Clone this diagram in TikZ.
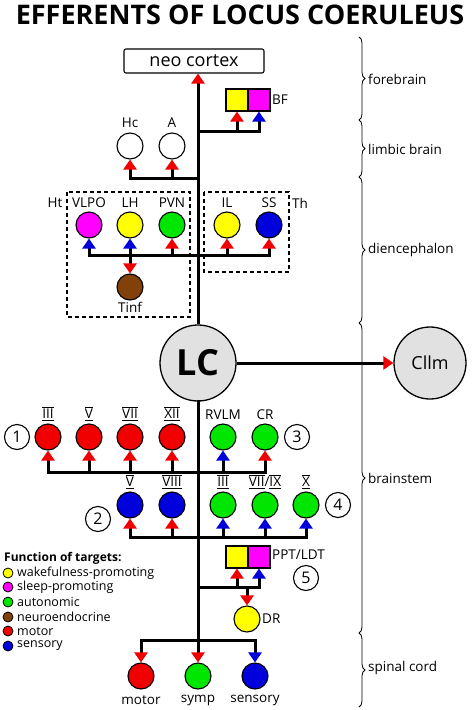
\documentclass[tikz,border=0pt]{standalone}
\usepackage{fontspec}
\setmainfont{Open Sans}
\usetikzlibrary{arrows.meta,decorations.pathreplacing}
\definecolor{cred}{RGB}{240,0,0}
\definecolor{cyel}{RGB}{255,255,0}
\definecolor{cmag}{RGB}{255,0,255}
\definecolor{cgrn}{RGB}{0,230,0}
\definecolor{cblu}{RGB}{0,0,220}
\definecolor{cbrn}{RGB}{130,65,10}
\definecolor{cgry}{RGB}{225,225,225}
\newcommand\rnum[1]{\begingroup\setbox0\hbox{#1}\leavevmode\lower2.1pt\vbox{\hrule height1pt width\wd0\kern1.2pt\copy0\kern1.2pt\hrule height1pt}\endgroup}
\begin{document}
\begin{tikzpicture}[x=1pt,y=-1pt,
  tgt/.style={circle,draw,line width=1.1pt,minimum size=26pt,inner sep=0pt,fill=#1},
  sq/.style={draw,line width=1.1pt,minimum size=22pt,inner sep=0pt,fill=#1},
  lab/.style={font=\fontsize{13.5}{15}\selectfont,inner sep=0pt},
  num/.style={circle,draw,line width=1.1pt,minimum size=25pt,inner sep=0pt,font=\fontsize{16}{18}\selectfont},
  wire/.style={line width=3pt},
  bus/.style={wire,line cap=rect},
  arw/.style={wire,-{Triangle[width=13pt,length=10pt,color=#1]}},
  dbox/.style={line width=1.2pt,dash pattern=on 4pt off 3pt},
  brc/.style={decorate,decoration={brace,amplitude=6pt},line width=0.8pt},
  side/.style={font=\fontsize{13.5}{15}\selectfont,anchor=west,inner sep=0pt},
  leg/.style={font=\fontsize{12.5}{14}\selectfont,anchor=west,inner sep=0pt},
  dot/.style={circle,draw,line width=0.8pt,minimum size=10pt,inner sep=0pt,fill=#1}
]
\fill[white] (0,0) rectangle (474,710);
\useasboundingbox (0,0) rectangle (474,710);

% title
\node[font=\fontsize{27}{30}\selectfont\bfseries,inner sep=0pt] (title) at (240,15) {EFFERENTS OF LOCUS COERULEUS};

% forebrain
\node[draw,rounded corners=2pt,line width=1.1pt,minimum width=140pt,minimum height=24pt,inner sep=0pt,font=\fontsize{18}{20}\selectfont] (neo) at (194,61) {neo cortex};
\node[sq=cyel] (bfy) at (237,100) {};
\node[sq=cmag] (bfm) at (259,100) {};
\node[lab,anchor=west] (bfl) at (272,100) {BF};

% limbic
\node[tgt=white] (hc) at (130,146) {};
\node[tgt=white] (am) at (172,146) {};
\node[lab] (hcl) at (130,123) {Hc};
\node[lab] (aml) at (172,123) {A};

% diencephalon
\draw[dbox] (67,192) rectangle (190,317);
\draw[dbox] (204,192) rectangle (289,272);
\node[lab] (htl) at (55,203) {Ht};
\node[lab,anchor=west] (thl) at (292,203) {Th};
\node[tgt=cmag] (vlpo) at (89,225) {};
\node[tgt=cyel] (lh) at (130,225) {};
\node[tgt=cgrn] (pvn) at (172,225) {};
\node[tgt=cyel] (il) at (227,225) {};
\node[tgt=cblu] (ss) at (269,225) {};
\node[tgt=cbrn] (tinf) at (130,287) {};
\node[lab] at (89,203) {VLPO};
\node[lab] at (130,203) {LH};
\node[lab] at (172,203) {PVN};
\node[lab] at (227,203) {IL};
\node[lab] at (269,203) {SS};
\node[lab] at (130,307) {Tinf};

% LC and Cllm
\node[circle,draw,fill=cgry,minimum size=76pt,inner sep=0pt,line width=1.3pt,font=\fontsize{36}{40}\selectfont\bfseries] (lc) at (198,363) {LC};
\node[circle,draw,fill=cgry,minimum size=72pt,inner sep=0pt,line width=1.3pt,font=\fontsize{18}{20}\selectfont] (cllm) at (430,363) {Cllm};

% brainstem row 1
\node[tgt=cred] (m3) at (48,437) {};
\node[tgt=cred] (m5) at (89,437) {};
\node[tgt=cred] (m7) at (130,437) {};
\node[tgt=cred] (m12) at (172,437) {};
\node[tgt=cgrn] (rvlm) at (223,437) {};
\node[tgt=cgrn] (cr) at (265,437) {};
\node[lab] at (48,414) {\rnum{III}};
\node[lab] at (89,414) {\rnum{V}};
\node[lab] at (130,414) {\rnum{VII}};
\node[lab] at (172,414) {\rnum{XII}};
\node[lab] at (223,415) {RVLM};
\node[lab] at (265,415) {CR};
\node[num] (n1) at (17,437) {1};
\node[num] (n3) at (297,437) {3};

% brainstem row 2
\node[tgt=cblu] (s5) at (130,505) {};
\node[tgt=cblu] (s8) at (172,505) {};
\node[tgt=cgrn] (a3) at (223,505) {};
\node[tgt=cgrn] (a79) at (265,505) {};
\node[tgt=cgrn] (a10) at (306,505) {};
\node[lab] at (130,482) {\rnum{V}};
\node[lab] at (172,482) {\rnum{VIII}};
\node[lab] at (223,482) {\rnum{III}};
\node[lab] at (265,482) {\rnum{VII}/\rnum{IX}};
\node[lab] at (306,482) {\rnum{X}};
\node[num] (n2) at (98,519) {2};
\node[num] (n4) at (338,505) {4};

% PPT/LDT and DR
\node[sq=cyel] (ppty) at (237,557) {};
\node[sq=cmag] (pptm) at (259,557) {};
\node[lab,anchor=west] at (272,555) {PPT/LDT};
\node[num] (n5) at (306,578) {5};
\node[tgt=cyel] (dr) at (247,619) {};
\node[lab,anchor=west] at (262,619) {DR};

% spinal cord
\node[tgt=cred] (sm) at (141,676) {};
\node[tgt=cgrn] (sy) at (198,676) {};
\node[tgt=cblu] (se) at (255,676) {};
\node[lab] at (141,700) {motor};
\node[lab] at (198,700) {symp};
\node[lab] at (255,700) {sensory};

% junction coordinates
\coordinate (jbf) at (198,131);
\coordinate (jha) at (198,178);
\coordinate (jdi) at (198,255);
\coordinate (jr1) at (198,472);
\coordinate (jr2) at (198,537);
\coordinate (jpp) at (198,587);
\coordinate (jsp) at (198,640);

% upper trunk
\draw[arw=cred] (lc.north) -- (lc.north |- neo.south);
\draw[bus] (jbf) -- (259,131);
\draw[arw=cred] (237,131) -- (bfy.south);
\draw[arw=cblu] (259,131) -- (bfm.south);
\draw[bus] (130,178) -- (jha);
\draw[arw=cred] (130,178) -- (hc.south);
\draw[arw=cred] (172,178) -- (am.south);
\draw[bus] (89,255) -- (269,255);
\draw[arw=cblu] (89,255) -- (vlpo.south);
\draw[arw=cblu] (130,255) -- (lh.south);
\draw[arw=cred] (172,255) -- (pvn.south);
\draw[arw=cred] (227,255) -- (il.south);
\draw[arw=cred] (269,255) -- (ss.south);
\draw[arw=cred] (130,255) -- (tinf.north);

% LC to Cllm
\draw[arw=cred] (lc.east) -- (cllm.west);

% lower trunk
\draw[bus] (lc.south) -- (jsp);
\draw[bus] (48,472) -- (265,472);
\draw[arw=cred] (48,472) -- (m3.south);
\draw[arw=cred] (89,472) -- (m5.south);
\draw[arw=cred] (130,472) -- (m7.south);
\draw[arw=cred] (172,472) -- (m12.south);
\draw[arw=cblu] (223,472) -- (rvlm.south);
\draw[arw=cred] (265,472) -- (cr.south);
\draw[bus] (130,537) -- (306,537);
\draw[arw=cred] (130,537) -- (s5.south);
\draw[arw=cred] (172,537) -- (s8.south);
\draw[arw=cblu] (223,537) -- (a3.south);
\draw[arw=cblu] (265,537) -- (a79.south);
\draw[arw=cblu] (306,537) -- (a10.south);
\draw[bus] (jpp) -- (259,587);
\draw[arw=cred] (237,587) -- (ppty.south);
\draw[arw=cblu] (259,587) -- (pptm.south);
\draw[arw=cred] (247,587) -- (dr.north);
\draw[bus] (141,640) -- (255,640);
\draw[arw=cred] (141,640) -- (sm.north);
\draw[arw=cred] (198,640) -- (sy.north);
\draw[arw=cblu] (255,640) -- (se.north);

% braces
\draw[brc] (359,37) -- (359,120);
\draw[brc] (359,120) -- (359,177);
\draw[brc] (359,177) -- (359,323);
\draw[brc] (359,323) -- (359,633);
\draw[brc] (359,633) -- (359,707);
\node[side] at (368,79) {forebrain};
\node[side] at (368,149) {limbic brain};
\node[side] at (368,250) {diencephalon};
\node[side] at (368,478) {brainstem};
\node[side] at (368,668) {spinal cord};

% legend
\node[font=\fontsize{12}{14}\selectfont\bfseries,anchor=west,inner sep=0pt] at (4,558) {Function of targets:};
\node[dot=cyel] at (8,573) {}; \node[leg] at (17,573) {wakefulness-promoting};
\node[dot=cmag] at (8,587) {}; \node[leg] at (17,587) {sleep-promoting};
\node[dot=cgrn] at (8,602) {}; \node[leg] at (17,602) {autonomic};
\node[dot=cbrn] at (8,617) {}; \node[leg] at (17,617) {neuroendocrine};
\node[dot=cred] at (8,631) {}; \node[leg] at (17,631) {motor};
\node[dot=cblu] at (8,646) {}; \node[leg] at (17,646) {sensory};
\end{tikzpicture}
\end{document}
